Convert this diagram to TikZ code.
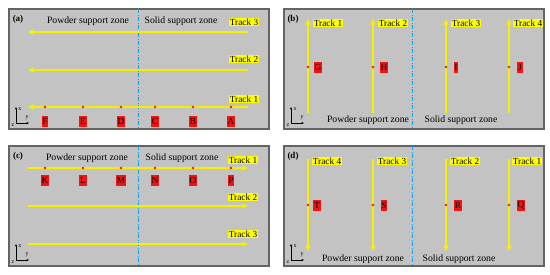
\documentclass[tikz,border=0pt]{standalone}
\usepackage{fontspec}
\setmainfont{Liberation Serif}
\usetikzlibrary{arrows.meta}
\definecolor{panelgray}{RGB}{195,195,195}
\definecolor{framegray}{RGB}{100,100,100}
\definecolor{trackyellow}{RGB}{245,240,0}
\definecolor{lblyellow}{RGB}{255,255,0}
\definecolor{ptred}{RGB}{240,20,20}
\definecolor{zoneblue}{RGB}{30,160,225}
\tikzset{
  panel/.style={fill=panelgray,draw=framegray,line width=1.1pt},
  zoneline/.style={draw=zoneblue,line width=1pt,dash pattern=on 4pt off 1.5pt on 1pt off 1.5pt},
  track/.style={draw=trackyellow,line width=1.3pt,-{Triangle[length=5.5pt,width=5pt,fill=trackyellow]}},
  tracklbl/.style={fill=lblyellow,inner xsep=0.8pt,inner ysep=0.6pt,font=\fontsize{9.3}{9}\selectfont,text=black},
  zonelbl/.style={font=\fontsize{9.7}{10}\selectfont,text=black,inner sep=0pt},
  panellbl/.style={font=\fontsize{9}{10}\selectfont\bfseries,inner sep=0pt},
  ptdot/.style={circle,fill=ptred,inner sep=0pt,minimum size=2.8pt},
  ptlbl/.style={fill=ptred,inner xsep=0.8pt,inner ysep=0pt,minimum height=11pt,font=\fontsize{9.3}{9}\selectfont,text=black},
  axarrow/.style={draw=black,line width=0.6pt,-{Stealth[length=2.5pt,width=2.2pt]}},
  axlbl/.style={font=\fontsize{6}{6}\selectfont,inner sep=0pt}
}
\begin{document}
\begin{tikzpicture}[x=1pt,y=-1pt]
\useasboundingbox[fill=white] (0,0) rectangle (550,274);

% ---------------- panel (a)
\draw[panel] (9,9) rectangle (269,129);
\coordinate (azt) at (138,9); \coordinate (azb) at (138,129);
\draw[zoneline] (azt) -- (azb);
\node[panellbl] (alab) at (18,19) {(a)};
\node[zonelbl] (apow) at (88,21) {Powder support zone};
\node[zonelbl] (asol) at (181,21) {Solid support zone};
\foreach \n/\y/\ly in {3/32/22,2/70/59,1/107/99}{
  \coordinate (as\n) at (248,\y); \coordinate (ae\n) at (28,\y);
  \draw[track] (as\n) -- (ae\n);
  \node[tracklbl] (at\n) at (244,\ly) {Track \n};
}
\foreach \x/\l in {45/F,83/E,121/D,155/C,193/B,231/A}{
  \node[ptdot] (dot\l) at (\x,107) {};
  \node[ptlbl] (lbl\l) at (\x,121) {\l};
}
\coordinate (aax) at (16,123);
\coordinate (aaxu) at (16,107); \coordinate (aaxr) at (29,123);
\draw[axarrow] (aax) -- (aaxu);
\draw[axarrow] (aax) -- (aaxr);
\node[axlbl] (aaxx) at (20,109) {x};
\node[axlbl] (aaxy) at (27,118) {y};
\node[axlbl] (aaxz) at (13,125) {z};

% ---------------- panel (b)
\draw[panel] (284,9) rectangle (544,129);
\coordinate (bzt) at (412,9); \coordinate (bzb) at (412,129);
\draw[zoneline] (bzt) -- (bzb);
\node[panellbl] (blab) at (293,19) {(b)};
\node[zonelbl] (bpow) at (368,120) {Powder support zone};
\node[zonelbl] (bsol) at (461,120) {Solid support zone};
\foreach \n/\x/\lx/\l/\px in {1/308/328/G/318,2/373/393/H/384,3/446/466/I/456,4/509/528/J/520}{
  \coordinate (bs\n) at (\x,113); \coordinate (be\n) at (\x,19);
  \draw[track] (bs\n) -- (be\n);
  \node[tracklbl] (bt\n) at (\lx,23) {Track \n};
  \node[ptdot] (dot\l) at (\x,67) {};
  \node[ptlbl] (lbl\l) at (\px,67) {\l};
}
\coordinate (bax) at (291,123);
\coordinate (baxu) at (291,107); \coordinate (baxr) at (304,123);
\draw[axarrow] (bax) -- (baxu);
\draw[axarrow] (bax) -- (baxr);
\node[axlbl] (baxx) at (295,109) {x};
\node[axlbl] (baxy) at (302,118) {y};
\node[axlbl] (baxz) at (288,125) {z};

% ---------------- panel (c)
\draw[panel] (9,146) rectangle (269,266);
\coordinate (czt) at (138,146); \coordinate (czb) at (138,266);
\draw[zoneline] (czt) -- (czb);
\node[panellbl] (clab) at (18,156) {(c)};
\node[zonelbl] (cpow) at (87,158) {Powder support zone};
\node[zonelbl] (csol) at (182,158) {Solid support zone};
\foreach \n/\y/\ly in {1/168/160,2/206/197,3/244/234}{
  \coordinate (cs\n) at (28,\y); \coordinate (ce\n) at (248,\y);
  \draw[track] (cs\n) -- (ce\n);
  \node[tracklbl] (ct\n) at (243,\ly) {Track \n};
}
\foreach \x/\l in {45/K,83/L,121/M,155/N,193/O,231/P}{
  \node[ptdot] (dot\l) at (\x,168) {};
  \node[ptlbl] (lbl\l) at (\x,180) {\l};
}
\coordinate (cax) at (16,260);
\coordinate (caxu) at (16,244); \coordinate (caxr) at (29,260);
\draw[axarrow] (cax) -- (caxu);
\draw[axarrow] (cax) -- (caxr);
\node[axlbl] (caxx) at (20,246) {x};
\node[axlbl] (caxy) at (27,255) {y};
\node[axlbl] (caxz) at (13,262) {z};

% ---------------- panel (d)
\draw[panel] (284,146) rectangle (544,266);
\coordinate (dzt) at (412,146); \coordinate (dzb) at (412,266);
\draw[zoneline] (dzt) -- (dzb);
\node[panellbl] (dlab) at (293,156) {(d)};
\node[zonelbl] (dpow) at (363,259) {Powder support zone};
\node[zonelbl] (dsol) at (459,259) {Solid support zone};
\foreach \n/\x/\lx/\l/\px in {4/308/327/T/317,3/373/392/S/384,2/446/465/R/458,1/509/527/Q/521}{
  \coordinate (ds\n) at (\x,159); \coordinate (de\n) at (\x,251);
  \draw[track] (ds\n) -- (de\n);
  \node[tracklbl] (dt\n) at (\lx,161) {Track \n};
  \node[ptdot] (dot\l) at (\x,205) {};
  \node[ptlbl] (lbl\l) at (\px,205) {\l};
}
\coordinate (dax) at (291,260);
\coordinate (daxu) at (291,244); \coordinate (daxr) at (304,260);
\draw[axarrow] (dax) -- (daxu);
\draw[axarrow] (dax) -- (daxr);
\node[axlbl] (daxx) at (295,246) {x};
\node[axlbl] (daxy) at (302,255) {y};
\node[axlbl] (daxz) at (288,262) {z};
\end{tikzpicture}
\end{document}
